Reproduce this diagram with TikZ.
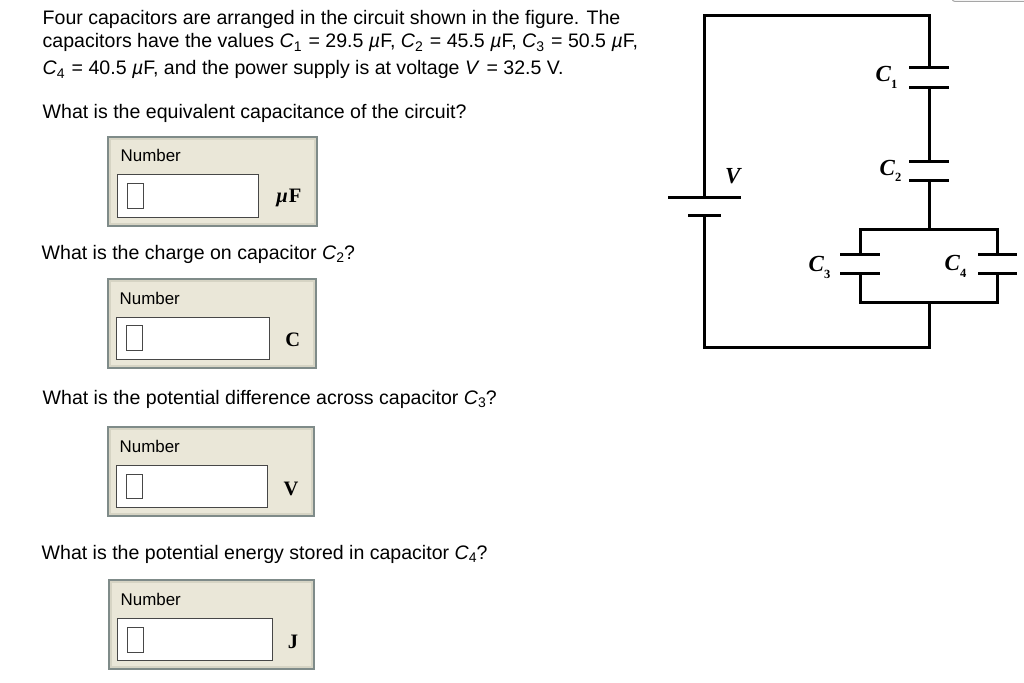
\documentclass[tikz,border=0pt]{standalone}
\usepackage{fontspec}
\setmainfont{Liberation Sans}
\newfontfamily\serifbf{Liberation Serif}
\newcommand{\Csb}[1]{\textit{C}\raisebox{-0.2em}{\fontsize{14}{14}\selectfont #1}}
\newcommand{\CL}[1]{{\serifbf\bfseries\itshape\fontsize{23}{23}\selectfont C}\raisebox{-6.5pt}{\serifbf\bfseries\fontsize{12.5}{12.5}\selectfont #1}}
\newcommand{\mF}{\textit{µ}F}
\newcommand{\eqs}{\hspace{0.36em}}
\definecolor{panelfill}{HTML}{EAE7D8}
\definecolor{panelmid}{HTML}{D6D4C4}
\definecolor{paneledge}{HTML}{7F8B89}
\tikzset{
  q/.style={anchor=base west,inner sep=0pt,font=\fontsize{19.55}{19.55}\selectfont},
  lab/.style={anchor=base west,inner sep=0pt,font=\fontsize{16.9}{16.9}\selectfont},
  unit/.style={anchor=base,inner sep=0pt,font=\serifbf\bfseries\fontsize{20.5}{20.5}\selectfont},
  input/.style={draw=black!72,line width=1pt,fill=white},
  caret/.style={draw=black!72,line width=0.9pt,fill=white},
  wire/.style={line width=3pt,line join=miter,line cap=butt},
  plate/.style={line width=3pt,line cap=butt},
  clabel/.style={anchor=base west,inner sep=0pt},
  pan/.pic={
    \fill[paneledge] (0,0) rectangle (\pw,\ph);
    \fill[panelmid] (2.2,2.2) rectangle (\pw-2.2,\ph-2.2);
    \fill[panelfill] (4,4) rectangle (\pw-4,\ph-4);
  }
}
\begin{document}
\begin{tikzpicture}[x=1pt,y=-1pt]
\useasboundingbox (0,0) rectangle (1024,682);
\fill[white] (0,0) rectangle (1024,682);
% corner tab
\draw[draw=black!35,line width=1pt,rounded corners=3pt,fill=white] (952,-6) rectangle (1030,1.5);
% question text
\node[q] (t1) at (42.5,25) {Four capacitors are arranged in the circuit shown in the figure. The};
\node[q] (t2) at (42.5,48) {capacitors have the values \Csb{1}\eqs= 29.5 \mF, \Csb{2}\eqs= 45.5 \mF, \Csb{3}\eqs= 50.5 \mF,};
\node[q] (t3) at (42.5,75) {\Csb{4}\eqs= 40.5 \mF, and the power supply is at voltage \textit{V}\eqs= 32.5 V.};
\node[q] (t4) at (42.5,118.5) {What is the equivalent capacitance of the circuit?};
\node[q] (t5) at (41.5,259) {What is the charge on capacitor \Csb{2}?};
\node[q] (t6) at (42.5,404) {What is the potential difference across capacitor \Csb{3}?};
\node[q] (t7) at (41.5,559) {What is the potential energy stored in capacitor \Csb{4}?};
% answer panels
\def\pw{211}\def\ph{91}\pic at (107,136) {pan};
\draw[input] (117,174) rectangle (258,217);
\draw[caret] (127,183) rectangle (143.3,208.5);
\node[lab] (n1) at (120.5,161.5) {Number};
\node[unit] (u1) at (288.7,202.7) {\textit{µ}\hspace{1pt}F};
\def\pw{210}\def\ph{91}\pic at (107,278) {pan};
\draw[input] (116.5,317) rectangle (269.5,359.5);
\draw[caret] (126.5,325.5) rectangle (142.5,350.5);
\node[lab] (n2) at (119.5,304) {Number};
\node[unit] (u2) at (292.7,346.7) {C};
\def\pw{208}\def\ph{91}\pic at (107,426) {pan};
\draw[input] (116.5,465) rectangle (267.5,507.5);
\draw[caret] (126.5,474) rectangle (142.5,498.5);
\node[lab] (n3) at (119.5,452.3) {Number};
\node[unit] (u3) at (291,495) {V};
\def\pw{207}\def\ph{91}\pic at (108,579) {pan};
\draw[input] (117,618) rectangle (272.5,660.5);
\draw[caret] (127,627) rectangle (143,652);
\node[lab] (n4) at (120.5,605.3) {Number};
\node[unit] (u4) at (293,648) {J};
% circuit coordinates
\coordinate (TL) at (704.7,15.7);
\coordinate (TR) at (929,15.7);
\coordinate (BL) at (704.7,347.7);
\coordinate (BR) at (929,347.7);
\coordinate (Vp) at (704.7,197.7);
\coordinate (Vm) at (704.7,215.7);
\coordinate (C1a) at (929,67.7);
\coordinate (C1b) at (929,87.3);
\coordinate (C2a) at (929,161);
\coordinate (C2b) at (929,180.7);
\coordinate (PT) at (929,229);
\coordinate (PB) at (929,302.3);
\coordinate (C3a) at (860,254);
\coordinate (C3b) at (860,273.7);
\coordinate (C4a) at (997.7,254);
\coordinate (C4b) at (997.7,273.7);
% wires
\draw[wire] (Vp) -- (TL) -- (TR) -- (C1a);
\draw[wire] (C1b) -- (C2a);
\draw[wire] (C2b) -- (PT);
\draw[wire] (C3a) -- (860,229) -- (997.7,229) -- (C4a);
\draw[wire] (C3b) -- (860,302.3) -- (997.7,302.3) -- (C4b);
\draw[wire] (PB) -- (BR) -- (BL) -- (Vm);
% plates
\foreach \c in {C1a,C1b,C2a,C2b,C3a,C3b,C4a,C4b}{
  \draw[plate] ([xshift=-19.7pt]\c) -- ([xshift=19.7pt]\c);
}
\draw[plate] (668,197.7) -- (741.3,197.7);
\draw[plate] (688,215.7) -- (721.3,215.7);
% labels
\node[clabel] (lc1) at (875.5,81.7) {\CL{1}};
\node[clabel] (lc2) at (879.5,175) {\CL{2}};
\node[clabel] (lc3) at (808.5,271.7) {\CL{3}};
\node[clabel] (lc4) at (944.5,270.7) {\CL{4}};
\node[clabel] (lv) at (725,183.3) {{\serifbf\bfseries\itshape\fontsize{23}{23}\selectfont V}};
\end{tikzpicture}
\end{document}
